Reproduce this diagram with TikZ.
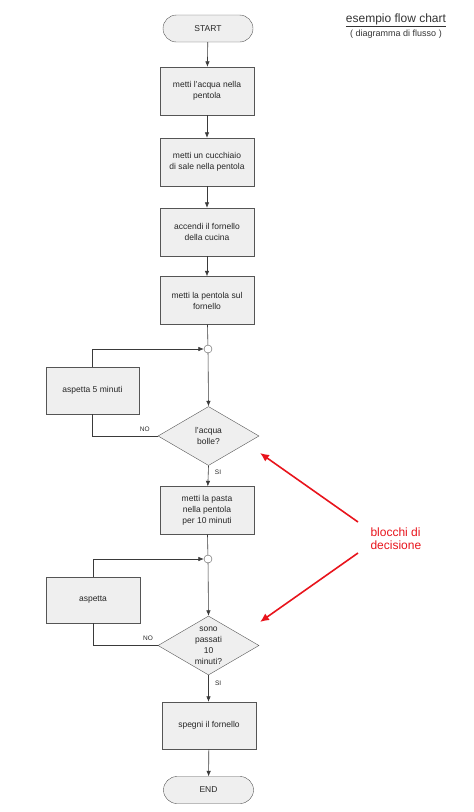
\documentclass[tikz,border=0pt]{standalone}
\usepackage{fontspec}
\setmainfont{Liberation Sans}
\usetikzlibrary{shapes.geometric,shapes.misc,arrows.meta}
\definecolor{boxfill}{HTML}{EFEFEF}
\definecolor{boxline}{HTML}{555555}
\definecolor{wire}{HTML}{3A3A3A}
\definecolor{redarrow}{HTML}{E8141C}
\begin{document}
\begin{tikzpicture}[x=1pt,y=-1pt,
  every node/.style={font=\fontsize{8.5}{11}\selectfont, text=black!85},
  term/.style={rounded rectangle, draw=boxline, fill=boxfill, minimum width=90, minimum height=27, inner sep=0},
  proc/.style={rectangle, draw=boxline, fill=boxfill, minimum width=94, minimum height=48, inner sep=0, align=center},
  dec/.style={diamond, draw=boxline, fill=boxfill, minimum width=101, minimum height=59, inner sep=0},
  junc/.style={circle, draw=boxline, fill=white, minimum size=8, inner sep=0},
  flow/.style={draw=wire, line width=0.6pt},
  arr/.style={flow, -{Latex[length=5.5pt,width=4.5pt]}},
  lbl/.style={font=\fontsize{6.5}{8}\selectfont},
  redarr/.style={draw=redarrow, line width=1.6pt, -{Latex[length=9pt,width=8pt]}}
]
\useasboundingbox (0,0) rectangle (474,812);

\node[term] (start) at (208,28.5) {START};
\node[proc] (b1) at (207,91) {metti l'acqua nella\\pentola};
\node[proc] (b2) at (207,162) {metti un cucchiaio\\di sale nella pentola};
\node[proc] (b3) at (207,232) {accendi il fornello\\della cucina};
\node[proc] (b4) at (207,300.5) {metti la pentola sul\\fornello};
\node[junc] (j1) at (208,349) {};
\node[proc, minimum width=93, minimum height=47] (w1) at (92.5,390.5) {aspetta 5 minuti};
\node[dec] (d1) at (208.5,436) {};
\node (d1t) at (208.5,436) [align=center] {l'acqua\\bolle?};
\node[proc] (b5) at (207,510.5) {metti la pasta\\nella pentola\\per 10 minuti};
\node[junc] (j2) at (208,559) {};
\node[proc, minimum width=94, minimum height=46] (w2) at (93,600) {aspetta};
\node[dec] (d2) at (208.5,645.5) {};
\node (d2t) at (208.5,645.5) [align=center] {sono\\passati\\10\\minuti?};
\node[proc, minimum height=47] (b6) at (209,725.5) {spegni il fornello};
\node[term] (end) at (208.5,790) {END};

\draw[arr] (start) -- (b1);
\draw[arr] (b1) -- (b2);
\draw[arr] (b2) -- (b3);
\draw[arr] (b3) -- (b4);
\draw[flow] (b4) -- (j1);
\draw[arr] (j1) -- (d1.north);
\draw[arr] (d1.south) -- node[lbl, right=3pt, pos=0.3] (si1) {SI} (b5);
\draw[flow] (d1.west) -- node[lbl, above=1pt, pos=0.2] (no1) {NO} (w1.south |- d1.west) -- (w1.south);
\draw[arr] (w1.north) -- (w1.north |- j1) -- (j1.west);

\draw[flow] (b5) -- (j2);
\draw[arr] (j2) -- (d2.north);
\draw[arr] (d2.south) -- node[lbl, right=3pt, pos=0.3] (si2) {SI} (b6.north -| d2.south);
\draw[flow] (d2.west) -- node[lbl, above=1pt, pos=0.15] (no2) {NO} (w2.south |- d2.west) -- (w2.south);
\draw[arr] (w2.north) -- (w2.north |- j2) -- (j2.west);
\draw[arr] (b6) -- (end);

\node[font=\fontsize{12}{14}\selectfont, text=black!80] (title) at (396,20) {\underline{esempio flow chart}};
\node[font=\fontsize{9}{11}\selectfont, text=black!80] (subtitle) at (396,34) {( diagramma di flusso )};

\node[font=\fontsize{12}{13}\selectfont, text=redarrow, align=left, anchor=west] (blk) at (367,539) {blocchi di\\decisione};
\coordinate (r1s) at (358,522);
\coordinate (r2s) at (358,553);
\coordinate (r1e) at (260,453);
\coordinate (r2e) at (260,622);
\draw[redarr] (r1s) -- (r1e);
\draw[redarr] (r2s) -- (r2e);
\end{tikzpicture}
\end{document}
